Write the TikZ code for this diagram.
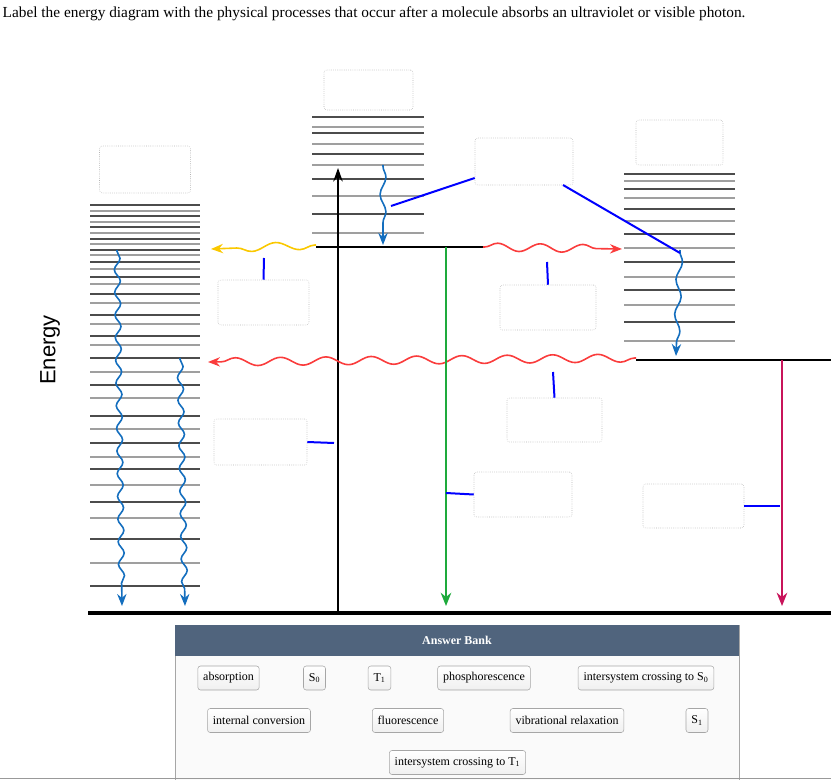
\documentclass[tikz,border=0pt]{standalone}
\usepackage{fontspec}
\setmainfont{Liberation Serif}
\newfontfamily\sansf{Liberation Sans}
\usetikzlibrary{decorations.pathmorphing,arrows.meta}
\definecolor{vblue}{RGB}{20,110,190}
\definecolor{gold}{RGB}{250,200,0}
\definecolor{wred}{RGB}{250,60,60}
\definecolor{pgreen}{RGB}{30,170,60}
\definecolor{pmag}{RGB}{200,20,90}
\definecolor{hdr}{RGB}{80,100,125}
\tikzset{
 lvA/.style={gray!75,line width=1.2pt},
 lvB/.style={black!70,line width=0.9pt},
 ansbox/.style={draw=gray!60,densely dotted,rounded corners=2pt,fill=white},
 ptr/.style={blue,line width=1.5pt},
 wavy/.style={decorate,decoration={snake,amplitude=2.2pt,segment length=17pt,post length=9pt,pre length=1pt},line width=1.2pt,-{Stealth[length=9pt,width=7pt]}},
 btn/.style={draw=gray!70,rounded corners=2pt,top color=white,bottom color=gray!12,font=\fontsize{9}{10}\selectfont,minimum height=18pt,inner xsep=4pt},
}
\begin{document}
\begin{tikzpicture}[x=0.75pt,y=-0.75pt]
\useasboundingbox (0,0) rectangle (831,780);
\node[anchor=west,font=\fontsize{11.5}{13}\selectfont] (title) at (-2,14) {Label the energy diagram with the physical processes that occur after a molecule absorbs an ultraviolet or visible photon.};
\node[rotate=90,font=\sansf\fontsize{16.5}{18}\selectfont] (en) at (50,350) {Energy};
% S0 stack
\foreach \y [count=\i] in {205,211,216,222,227,233,239,244,250,255,262,269,277,284,294,303,315,324,336,345,358,372,385,398,416,429,443,457,469,485,502,518,539,563,586}{
 \ifodd\i \draw[lvB] (90,\y) -- (200,\y); \else \draw[lvA] (90,\y) -- (200,\y); \fi }
% S1 stack
\foreach \y [count=\i] in {117,127,133,144,154,165,179,196,214,233}{
 \ifodd\i \draw[lvB] (312,\y) -- (424,\y); \else \draw[lvA] (312,\y) -- (424,\y); \fi }
% T1 stack
\foreach \y [count=\i] in {174,181,189,198,209,221,234,248,262,277,290,305,322,341}{
 \ifodd\i \draw[lvB] (624,\y) -- (735,\y); \else \draw[lvA] (624,\y) -- (735,\y); \fi }
% ground and levels
\coordinate (g0) at (88,613); \coordinate (g1) at (831,613);
\draw[line width=3pt] (g0) -- (g1);
\coordinate (s1a) at (316,247); \coordinate (s1b) at (483,247);
\draw[line width=1.5pt] (s1a) -- (s1b);
\coordinate (t1a) at (636,360); \coordinate (t1b) at (831,360);
\draw[line width=1.5pt] (t1a) -- (t1b);
% absorption
\coordinate (ab0) at (338,613); \coordinate (ab1) at (338,168);
\draw[line width=1.5pt,-{Stealth[length=10pt,width=7pt]}] (ab0) -- (ab1);
% vib relaxation arrows
\coordinate (v1a) at (117,250); \coordinate (v1b) at (122,606);
\draw[wavy,vblue] (v1a) -- (v1b);
\coordinate (v2a) at (180,358); \coordinate (v2b) at (185,606);
\draw[wavy,vblue] (v2a) -- (v2b);
\coordinate (v3a) at (383,165); \coordinate (v3b) at (383,245);
\draw[wavy,vblue,decoration={segment length=26pt}] (v3a) -- (v3b);
\coordinate (v4a) at (680,250); \coordinate (v4b) at (676,356);
\draw[wavy,vblue,decoration={segment length=26pt}] (v4a) -- (v4b);
% internal conversion
\coordinate (ic0) at (316,245); \coordinate (ic1) at (211,249);
\draw[wavy,gold,decoration={amplitude=3pt,segment length=36pt}] (ic0) -- (ic1);
% ISC to T1
\coordinate (it0) at (483,247); \coordinate (it1) at (622,249);
\draw[wavy,wred,decoration={amplitude=3pt,segment length=32pt}] (it0) -- (it1);
% ISC to S0
\coordinate (is0) at (636,358); \coordinate (is1) at (208,362);
\draw[wavy,wred,decoration={amplitude=3pt,segment length=34pt}] (is0) -- (is1);
% fluorescence / phosphorescence
\coordinate (fl0) at (446,247); \coordinate (fl1) at (446,606);
\draw[pgreen,line width=1.2pt,-{Stealth[length=10pt,width=8pt]}] (fl0) -- (fl1);
\coordinate (ph0) at (782,360); \coordinate (ph1) at (782,606);
\draw[pmag,line width=1.2pt,-{Stealth[length=10pt,width=8pt]}] (ph0) -- (ph1);
% label boxes
\node[ansbox,minimum width=68.25pt,minimum height=35.25pt] (bS0) at (145,169.5) {};
\node[ansbox,minimum width=66.75pt,minimum height=30pt] (bS1) at (368.5,90) {};
\node[ansbox,minimum width=65.25pt,minimum height=33.75pt] (bT1) at (679.5,142.5) {};
\node[ansbox,minimum width=73.5pt,minimum height=35.25pt] (bVR) at (524,161.5) {};
\node[ansbox,minimum width=68.25pt,minimum height=33.75pt] (bIC) at (263.5,302.5) {};
\node[ansbox,minimum width=72pt,minimum height=33.75pt] (bIT) at (548,307.5) {};
\node[ansbox,minimum width=71.25pt,minimum height=33pt] (bIS) at (554.5,420) {};
\node[ansbox,minimum width=69.75pt,minimum height=34.5pt] (bAB) at (260.5,442) {};
\node[ansbox,minimum width=73.5pt,minimum height=33.75pt] (bFL) at (523,494.5) {};
\node[ansbox,minimum width=75.75pt,minimum height=33pt] (bPH) at (693.5,506) {};
% pointers
\coordinate (p1) at (391,206); \draw[ptr] (p1) -- (bVR.west |- 0,178);
\coordinate (p2) at (680,253); \draw[ptr] (563,185) -- (p2);
\coordinate (p3) at (264,258); \draw[ptr] (p3) -- (bIC.north);
\coordinate (p4) at (547,262); \draw[ptr] (p4) -- (bIT.north);
\coordinate (p5) at (553,372); \draw[ptr] (p5) -- (bIS.north);
\coordinate (p6) at (334,443); \draw[ptr] (bAB.east) -- (p6);
\coordinate (p7) at (446,493); \draw[ptr] (p7) -- (bFL.west);
\coordinate (p8) at (780,506); \draw[ptr] (bPH.east) -- (p8);
% answer bank
\fill[gray!4] (175,656) rectangle (739,780);
\draw[gray!70] (175,625) rectangle (739,780);
\fill[hdr] (175,625) rectangle (739,656);
\node[white,font=\bfseries\fontsize{9}{10}\selectfont] (hd) at (457,640) {Answer Bank};
\draw[gray!80] (0,778) -- (831,778);
\node[btn] (a1) at (228.5,678) {absorption};
\node[btn] (a2) at (314.5,678) {S\textsubscript{0}};
\node[btn] (a3) at (379.5,678) {T\textsubscript{1}};
\node[btn] (a4) at (484,678) {phosphorescence};
\node[btn] (a5) at (646,678) {intersystem crossing to S\textsubscript{0}};
\node[btn] (b1) at (259,720.5) {internal conversion};
\node[btn] (b2) at (408,720.5) {fluorescence};
\node[btn] (b3) at (567,720.5) {vibrational relaxation};
\node[btn] (b4) at (697,720.5) {S\textsubscript{1}};
\node[btn] (c1) at (457.5,762.5) {intersystem crossing to T\textsubscript{1}};
\end{tikzpicture}
\end{document}
